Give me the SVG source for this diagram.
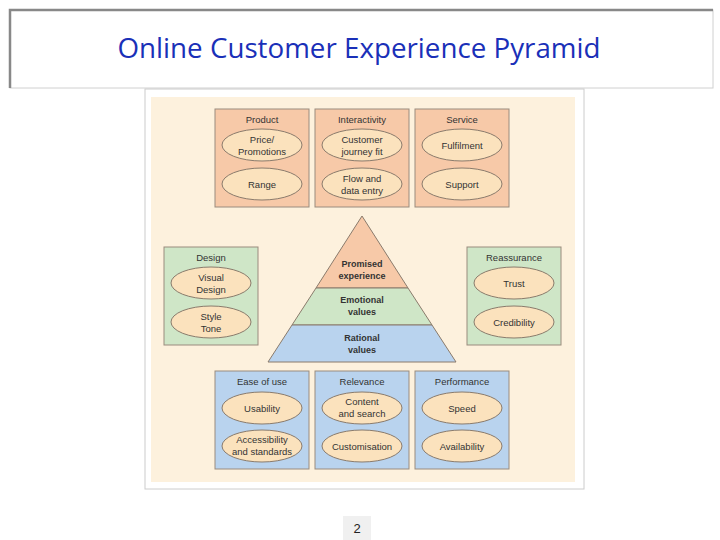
<svg xmlns="http://www.w3.org/2000/svg" width="720" height="540" viewBox="0 0 720 540">
<style>
text{font-family:"Liberation Sans",Arial,sans-serif;font-size:9.5px;fill:#333;text-anchor:middle}
.o{fill:#f7c9a8;stroke:#9a8b7e;stroke-width:1}
.g{fill:#cfe6c7;stroke:#9a8b7e;stroke-width:1}
.b{fill:#b9d3ee;stroke:#9a8b7e;stroke-width:1}
ellipse{fill:#fbe2bd;stroke:#8a7b6c;stroke-width:1}
.p{font-weight:bold;font-size:9px}
</style>
<rect width="720" height="540" fill="#fff"/>
<rect x="10" y="10" width="703" height="78" fill="#fff" stroke="#d0d0d0"/>
<path d="M10 88V10H713" fill="none" stroke="#888" stroke-width="2.5"/>
<text x="359" y="58" style="font-family:'Open Sans','Liberation Sans',sans-serif;font-size:27px;fill:#1a30b8" textLength="483" lengthAdjust="spacingAndGlyphs">Online Customer Experience Pyramid</text>
<rect x="145" y="89" width="439" height="400" fill="#fff" stroke="#ccc"/>
<rect x="151" y="97" width="424" height="385" fill="#fdf1dd"/>
<g id="product"><rect class="o" x="215" y="109" width="94" height="98"/><text x="262" y="123">Product</text>
<ellipse cx="262" cy="145" rx="40" ry="16"/><text x="262" y="143">Price/</text><text x="262" y="155">Promotions</text>
<ellipse cx="262" cy="184" rx="40" ry="16"/><text x="262" y="188">Range</text></g>
<g id="interactivity"><rect class="o" x="315" y="109" width="94" height="98"/><text x="362" y="123">Interactivity</text>
<ellipse cx="362" cy="145" rx="40" ry="16"/><text x="362" y="143">Customer</text><text x="362" y="155">journey fit</text>
<ellipse cx="362" cy="184" rx="40" ry="16"/><text x="362" y="182">Flow and</text><text x="362" y="194">data entry</text></g>
<g id="service"><rect class="o" x="415" y="109" width="94" height="98"/><text x="462" y="123">Service</text>
<ellipse cx="462" cy="145" rx="40" ry="16"/><text x="462" y="149">Fulfilment</text>
<ellipse cx="462" cy="184" rx="40" ry="16"/><text x="462" y="188">Support</text></g>
<g id="design"><rect class="g" x="164" y="247" width="94" height="98"/><text x="211" y="261">Design</text>
<ellipse cx="211" cy="283" rx="40" ry="16"/><text x="211" y="281">Visual</text><text x="211" y="293">Design</text>
<ellipse cx="211" cy="322" rx="40" ry="16"/><text x="211" y="320">Style</text><text x="211" y="332">Tone</text></g>
<g id="reassurance"><rect class="g" x="467" y="247" width="94" height="98"/><text x="514" y="261">Reassurance</text>
<ellipse cx="514" cy="283" rx="40" ry="16"/><text x="514" y="287">Trust</text>
<ellipse cx="514" cy="322" rx="40" ry="16"/><text x="514" y="326">Credibility</text></g>
<g id="pyramid">
<polygon points="362,216 408,288 316,288" fill="#f7c9a8" stroke="#8a7b6c"/>
<polygon points="316,288 408,288 432,325 292,325" fill="#cfe6c7" stroke="#8a7b6c"/>
<polygon points="292,325 432,325 456,362 268,362" fill="#b9d3ee" stroke="#8a7b6c"/>
<text class="p" x="362" y="267">Promised</text><text class="p" x="362" y="279">experience</text>
<text class="p" x="362" y="303">Emotional</text><text class="p" x="362" y="315">values</text>
<text class="p" x="362" y="341">Rational</text><text class="p" x="362" y="353">values</text></g>
<g id="ease"><rect class="b" x="215" y="371" width="94" height="98"/><text x="262" y="385">Ease of use</text>
<ellipse cx="262" cy="408" rx="40" ry="16"/><text x="262" y="412">Usability</text>
<ellipse cx="262" cy="446" rx="40" ry="16"/><text x="262" y="443">Accessibility</text><text x="262" y="455">and standards</text></g>
<g id="relevance"><rect class="b" x="315" y="371" width="94" height="98"/><text x="362" y="385">Relevance</text>
<ellipse cx="362" cy="408" rx="40" ry="16"/><text x="362" y="405">Content</text><text x="362" y="417">and search</text>
<ellipse cx="362" cy="446" rx="40" ry="16"/><text x="362" y="450">Customisation</text></g>
<g id="performance"><rect class="b" x="415" y="371" width="94" height="98"/><text x="462" y="385">Performance</text>
<ellipse cx="462" cy="408" rx="40" ry="16"/><text x="462" y="412">Speed</text>
<ellipse cx="462" cy="446" rx="40" ry="16"/><text x="462" y="450">Availability</text></g>
<g id="connectors"/>
<rect x="343" y="516" width="28" height="24" fill="#f0f0f0"/>
<text x="357" y="533" style="font-size:13px;fill:#222">2</text>
</svg>
